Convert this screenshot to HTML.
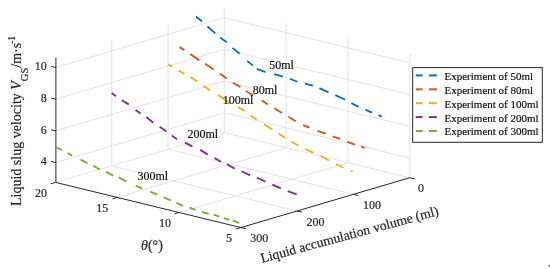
<!DOCTYPE html>
<html><head><meta charset="utf-8"><style>
html,body{margin:0;padding:0;background:#fff;}
body{width:550px;height:269px;overflow:hidden;position:relative;}
svg{position:absolute;left:0;top:0;filter:blur(0.3px);}
text{font-family:"Liberation Serif","DejaVu Serif",serif;}
.tk text,.lb text{stroke:currentColor;stroke-width:0.2;paint-order:stroke;}
</style></head><body>
<svg width="550" height="269" viewBox="0 0 550 269">
<rect width="550" height="269" fill="#fff"/>
<line x1="224.34" y1="132.60" x2="224.34" y2="7.72" stroke="#e2e2e2" stroke-width="1.0" />
<line x1="168.06" y1="149.20" x2="168.06" y2="24.32" stroke="#e2e2e2" stroke-width="1.0" />
<line x1="111.78" y1="165.80" x2="111.78" y2="40.92" stroke="#e2e2e2" stroke-width="1.0" />
<line x1="55.50" y1="162.60" x2="224.34" y2="112.80" stroke="#e2e2e2" stroke-width="1.0" />
<line x1="55.50" y1="130.90" x2="224.34" y2="81.10" stroke="#e2e2e2" stroke-width="1.0" />
<line x1="55.50" y1="99.20" x2="224.34" y2="49.40" stroke="#e2e2e2" stroke-width="1.0" />
<line x1="55.50" y1="67.50" x2="224.34" y2="17.70" stroke="#e2e2e2" stroke-width="1.0" />
<line x1="286.14" y1="147.65" x2="286.14" y2="22.77" stroke="#e2e2e2" stroke-width="1.0" />
<line x1="347.94" y1="162.70" x2="347.94" y2="37.82" stroke="#e2e2e2" stroke-width="1.0" />
<line x1="409.74" y1="177.75" x2="409.74" y2="52.87" stroke="#e2e2e2" stroke-width="1.0" />
<line x1="224.34" y1="112.80" x2="409.74" y2="157.95" stroke="#e2e2e2" stroke-width="1.0" />
<line x1="224.34" y1="81.10" x2="409.74" y2="126.25" stroke="#e2e2e2" stroke-width="1.0" />
<line x1="224.34" y1="49.40" x2="409.74" y2="94.55" stroke="#e2e2e2" stroke-width="1.0" />
<line x1="224.34" y1="17.70" x2="409.74" y2="62.85" stroke="#e2e2e2" stroke-width="1.0" />
<line x1="55.50" y1="182.40" x2="224.34" y2="132.60" stroke="#e2e2e2" stroke-width="1.0" />
<line x1="117.30" y1="197.45" x2="286.14" y2="147.65" stroke="#e2e2e2" stroke-width="1.0" />
<line x1="179.10" y1="212.50" x2="347.94" y2="162.70" stroke="#e2e2e2" stroke-width="1.0" />
<line x1="224.34" y1="132.60" x2="409.74" y2="177.75" stroke="#e2e2e2" stroke-width="1.0" />
<line x1="168.06" y1="149.20" x2="353.46" y2="194.35" stroke="#e2e2e2" stroke-width="1.0" />
<line x1="111.78" y1="165.80" x2="297.18" y2="210.95" stroke="#e2e2e2" stroke-width="1.0" />
<line x1="55.50" y1="182.40" x2="240.90" y2="227.55" stroke="#262626" stroke-width="1.0" />
<line x1="240.90" y1="227.55" x2="409.74" y2="177.75" stroke="#262626" stroke-width="1.0" />
<line x1="55.90" y1="182.40" x2="55.90" y2="57.52" stroke="#262626" stroke-width="1.0" />
<line x1="55.50" y1="182.40" x2="50.70" y2="183.81" stroke="#262626" stroke-width="1.0" />
<line x1="117.30" y1="197.45" x2="112.50" y2="198.86" stroke="#262626" stroke-width="1.0" />
<line x1="179.10" y1="212.50" x2="174.30" y2="213.91" stroke="#262626" stroke-width="1.0" />
<line x1="240.90" y1="227.55" x2="236.10" y2="228.96" stroke="#262626" stroke-width="1.0" />
<line x1="240.90" y1="227.55" x2="245.76" y2="228.73" stroke="#262626" stroke-width="1.0" />
<line x1="297.18" y1="210.95" x2="302.04" y2="212.13" stroke="#262626" stroke-width="1.0" />
<line x1="353.46" y1="194.35" x2="358.32" y2="195.53" stroke="#262626" stroke-width="1.0" />
<line x1="409.74" y1="177.75" x2="414.60" y2="178.93" stroke="#262626" stroke-width="1.0" />
<line x1="55.90" y1="162.60" x2="51.04" y2="161.42" stroke="#262626" stroke-width="1.0" />
<line x1="55.90" y1="130.90" x2="51.04" y2="129.72" stroke="#262626" stroke-width="1.0" />
<line x1="55.90" y1="99.20" x2="51.04" y2="98.02" stroke="#262626" stroke-width="1.0" />
<line x1="55.90" y1="67.50" x2="51.04" y2="66.32" stroke="#262626" stroke-width="1.0" />
<rect x="267.70" y="59.40" width="27.20" height="11" fill="#fff"/>
<rect x="251.20" y="83.90" width="27.20" height="11" fill="#fff"/>
<rect x="221.20" y="94.60" width="33.20" height="11" fill="#fff"/>
<rect x="185.90" y="128.20" width="33.20" height="11" fill="#fff"/>
<rect x="135.90" y="169.90" width="33.20" height="11" fill="#fff"/>
<path d="M195.91 16.55L202.09 21.55M207.40 26.56L215.30 33.34M220.12 37.53L226.68 42.27M232.41 47.85L239.69 53.75M247.21 60.86L252.99 65.64M256.78 68.93L265.62 72.07M274.09 74.20L282.91 76.60M289.87 78.75L297.43 81.75M304.89 83.70L312.81 85.70M319.36 88.17L328.44 92.43M335.26 95.17L345.34 99.73M351.36 103.18L358.64 106.92M365.37 109.66L371.93 112.54M378.66 115.17L381.64 116.63" fill="none" stroke="#0072BD" stroke-width="1.85" stroke-linecap="butt"/>
<path d="M179.54 47.11L184.36 50.09M190.13 54.03L199.37 60.37M205.13 63.82L213.67 69.58M219.83 73.73L226.67 78.57M232.85 82.70L240.35 87.00M245.75 91.00L253.05 95.20M261.54 100.32L267.86 104.38M274.34 108.31L281.96 112.99M288.54 116.81L295.66 121.29M302.97 125.05L309.53 127.65M317.48 130.83L325.62 133.67M332.68 136.33L340.12 138.97M347.17 141.65L354.63 144.55M361.06 146.37L364.64 148.03" fill="none" stroke="#D95319" stroke-width="1.85" stroke-linecap="butt"/>
<path d="M168.34 64.41L172.16 66.79M178.74 70.60L184.46 74.00M190.43 76.92L197.27 81.48M203.62 85.74L210.08 90.46M217.92 94.84L230.28 103.86M238.14 107.11L244.66 111.09M250.53 115.33L256.57 119.67M263.94 124.21L272.16 129.39M278.83 133.53L284.87 137.77M291.45 141.69L298.65 145.71M305.37 149.16L313.13 152.54M320.55 155.79L329.05 160.51M335.96 163.98L343.44 167.72M350.84 170.71L352.66 171.79" fill="none" stroke="#EDB120" stroke-width="1.85" stroke-linecap="butt"/>
<path d="M111.62 92.93L116.08 96.17M121.84 100.21L128.76 104.39M135.52 109.93L140.58 113.57M146.31 117.05L153.29 122.75M159.63 126.83L166.47 131.57M171.63 135.52L177.07 139.18M184.96 142.68L192.34 146.42M200.24 149.91L207.76 154.59M214.55 158.09L221.05 161.71M226.85 164.19L234.75 168.61M241.66 171.28L250.14 175.42M256.97 177.76L265.43 181.54M272.27 184.56L280.83 188.34M287.67 191.04L296.73 194.46" fill="none" stroke="#7E2F8E" stroke-width="1.85" stroke-linecap="butt"/>
<path d="M56.06 147.37L61.94 150.03M67.74 152.92L72.16 155.78M80.65 159.59L87.55 163.31M93.35 165.80L99.75 169.50M106.05 171.89L113.05 175.61M118.85 177.40L126.35 181.60M135.76 185.57L142.24 188.63M150.17 191.56L157.33 194.64M163.57 197.26L170.73 200.34M176.46 202.86L183.04 205.84M189.57 207.74L195.53 209.96M201.88 211.82L208.62 213.88M213.78 214.63L219.22 216.57M223.88 218.04L229.22 219.96M232.78 220.72L239.22 222.78" fill="none" stroke="#77AC30" stroke-width="1.85" stroke-linecap="butt"/>
<g class="tk" fill="#262626" color="#262626" font-size="12">
<text x="46.8" y="70" text-anchor="end">10</text>
<text x="46.8" y="101.8" text-anchor="end">8</text>
<text x="46.8" y="133.5" text-anchor="end">6</text>
<text x="46.8" y="165.3" text-anchor="end">4</text>
<text x="47" y="197.3" text-anchor="end">20</text>
<text x="108.2" y="212.3" text-anchor="end">15</text>
<text x="170.9" y="227.4" text-anchor="end">10</text>
<text x="232" y="242.4" text-anchor="end">5</text>
<text x="250.3" y="242.4">300</text>
<text x="306.6" y="225.8">200</text>
<text x="363.1" y="209.2">100</text>
<text x="418" y="191.6">0</text>
</g>
<g class="tk" fill="#111" color="#111" font-size="12">
<text x="269.2" y="69.2">50ml</text>
<text x="252.7" y="93.7">80ml</text>
<text x="222.7" y="104.4">100ml</text>
<text x="187.4" y="138">200ml</text>
<text x="137.4" y="179.7">300ml</text>
</g>
<g class="tk" fill="#262626" color="#262626" font-size="14">
<text x="141" y="250"><tspan font-style="italic">θ</tspan>(°)</text>
<text transform="translate(261.9,262.8) rotate(-15.1)" font-size="13.6">Liquid accumulation volume (ml)</text>
<text transform="translate(21,206) rotate(-90)">Liquid slug velocity <tspan font-style="italic">V</tspan><tspan font-size="10.5" dy="6.5">GS</tspan><tspan dy="-6.5">/m·s</tspan><tspan font-size="9.5" dy="-6" dx="-1">-1</tspan></text>
</g>
<g>
<rect x="412.7" y="67.6" width="129.6" height="74.7" fill="#fff" stroke="#262626" stroke-width="1"/>
<g stroke-width="2">
<line x1="415.8" y1="75.40" x2="422.6" y2="75.40" stroke="#0072BD"/><line x1="429" y1="75.40" x2="436.9" y2="75.40" stroke="#0072BD"/>
<line x1="415.8" y1="89.30" x2="422.6" y2="89.30" stroke="#D95319"/><line x1="429" y1="89.30" x2="436.9" y2="89.30" stroke="#D95319"/>
<line x1="415.8" y1="103.20" x2="422.6" y2="103.20" stroke="#EDB120"/><line x1="429" y1="103.20" x2="436.9" y2="103.20" stroke="#EDB120"/>
<line x1="415.8" y1="117.10" x2="422.6" y2="117.10" stroke="#7E2F8E"/><line x1="429" y1="117.10" x2="436.9" y2="117.10" stroke="#7E2F8E"/>
<line x1="415.8" y1="131.00" x2="422.6" y2="131.00" stroke="#77AC30"/><line x1="429" y1="131.00" x2="436.9" y2="131.00" stroke="#77AC30"/>
</g>
<g class="tk" fill="#111" color="#111" font-size="11">
<text x="444.5" y="79.8">Experiment of 50ml</text>
<text x="444.5" y="93.7">Experiment of 80ml</text>
<text x="444.5" y="107.6">Experiment of 100ml</text>
<text x="444.5" y="121.5">Experiment of 200ml</text>
<text x="444.5" y="135.4">Experiment of 300ml</text>
</g>
</g>
<rect x="548.6" y="264.8" width="1.4" height="2" fill="#555"/>
</svg>
</body></html>
